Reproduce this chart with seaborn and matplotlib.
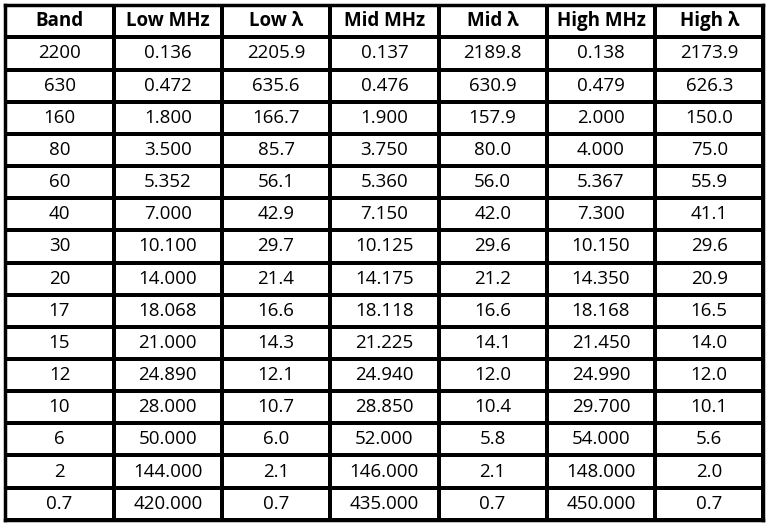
import matplotlib
matplotlib.use("Agg")
import matplotlib.pyplot as plt
import seaborn as sns
import numpy as np

headers = ["Band", "Low MHz", "Low λ", "Mid MHz", "Mid λ", "High MHz", "High λ"]
band = ["2200", "630", "160", "80", "60", "40", "30", "20", "17", "15", "12", "10", "6", "2", "0.7"]
low_mhz = ["0.136", "0.472", "1.800", "3.500", "5.352", "7.000", "10.100", "14.000", "18.068", "21.000", "24.890", "28.000", "50.000", "144.000", "420.000"]
low_wl = ["2205.9", "635.6", "166.7", "85.7", "56.1", "42.9", "29.7", "21.4", "16.6", "14.3", "12.1", "10.7", "6.0", "2.1", "0.7"]
mid_mhz = ["0.137", "0.476", "1.900", "3.750", "5.360", "7.150", "10.125", "14.175", "18.118", "21.225", "24.940", "28.850", "52.000", "146.000", "435.000"]
mid_wl = ["2189.8", "630.9", "157.9", "80.0", "56.0", "42.0", "29.6", "21.2", "16.6", "14.1", "12.0", "10.4", "5.8", "2.1", "0.7"]
high_mhz = ["0.138", "0.479", "2.000", "4.000", "5.367", "7.300", "10.150", "14.350", "18.168", "21.450", "24.990", "29.700", "54.000", "148.000", "450.000"]
high_wl = ["2173.9", "626.3", "150.0", "75.0", "55.9", "41.1", "29.6", "20.9", "16.5", "14.0", "12.0", "10.1", "5.6", "2.0", "0.7"]

cols = [band, low_mhz, low_wl, mid_mhz, mid_wl, high_mhz, high_wl]
text = np.array([headers] + [list(r) for r in zip(*cols)])
nr, nc = text.shape

plt.rcParams['font.family'] = ['Open Sans', 'DejaVu Sans']
fig = plt.figure(figsize=(7.68, 5.25), dpi=100)
ax = fig.add_axes([0.007, 0.01, 0.987, 0.98])
sns.heatmap(np.zeros((nr, nc)), cmap=["white"], cbar=False, annot=text, fmt="",
            annot_kws={"fontsize": 13.5, "color": "black"},
            linewidths=1.5, linecolor="black", ax=ax)
for t in ax.texts[:nc]:
    t.set_fontweight("bold")
ax.set_xticks([]); ax.set_yticks([])
for s in ax.spines.values():
    s.set_visible(True); s.set_linewidth(2.5); s.set_color("black")
fig.savefig("out.png", dpi=100, facecolor="white")
